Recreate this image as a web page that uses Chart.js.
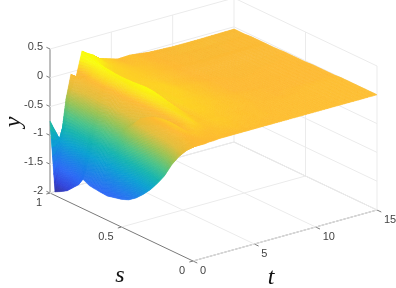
<!DOCTYPE html>
<html>
<head>
<meta charset="utf-8">
<style>
  html, body { margin: 0; padding: 0; background: #fff; }
  canvas { display: block; filter: blur(0.35px); }
</style>
<script src="https://cdn.jsdelivr.net/npm/chart.js@4"></script>
</head>
<body>
<canvas id="surfaceChart" width="396" height="288"></canvas>
<script>
const sValues = [1, 0.965, 0.92, 0.88, 0.84, 0.8, 0.77, 0.72, 0.65, 0.6, 0.55, 0.5, 0.45, 0.4, 0.35, 0.3, 0.25, 0.2, 0.15, 0.1, 0.05, 0];
const tValues = [0, 0.25, 0.5, 0.75, 1, 1.3, 1.7, 2.1, 2.6, 3, 3.5, 4, 4.6, 5.5, 6.5, 8, 10, 12, 15];
// one row per s value, one column per t value
const yValues = [
  [-0.75, -0.87, -0.98, -1.1, -0.95, -0.45, -0.04, -0.13, 0.31, 0.25, 0.19, 0.1, 0.06, 0, 0.01, -0.03, -0.05, -0.05, -0.04],
  [-1.94, -1.75, -1.45, -1.05, -0.6, -0.25, -0.05, -0.06, 0.29, 0.22, 0.17, 0.09, 0.05, 0, 0.01, -0.03, -0.05, -0.05, -0.04],
  [-1.88, -1.65, -1.35, -1, -0.62, -0.3, -0.1, 0, 0.26, 0.18, 0.13, 0.08, 0.05, 0.01, 0.01, -0.03, -0.05, -0.05, -0.04],
  [-1.82, -1.6, -1.3, -0.98, -0.65, -0.35, -0.11, 0.08, 0.23, 0.13, 0.09, 0.07, 0.05, 0.02, 0.01, -0.03, -0.04, -0.04, -0.03],
  [-1.72, -1.52, -1.25, -0.98, -0.7, -0.4, -0.09, 0.11, 0.21, 0.1, 0.08, 0.07, 0.05, 0.03, 0.01, -0.02, -0.04, -0.04, -0.03],
  [-1.62, -1.42, -1.2, -0.96, -0.72, -0.42, -0.09, 0.12, 0.2, 0.08, 0.07, 0.06, 0.05, 0.03, 0.01, -0.02, -0.04, -0.04, -0.03],
  [-1.49, -1.36, -1.16, -0.94, -0.72, -0.44, -0.09, 0.12, 0.19, 0.07, 0.07, 0.06, 0.05, 0.03, 0.01, -0.02, -0.04, -0.03, -0.03],
  [-1.55, -1.35, -1.12, -0.9, -0.68, -0.42, -0.09, 0.12, 0.185, 0.05, 0.07, 0.06, 0.05, 0.03, 0.01, -0.02, -0.03, -0.03, -0.03],
  [-1.57, -1.38, -1.12, -0.86, -0.62, -0.38, -0.08, 0.12, 0.19, 0.05, 0.07, 0.07, 0.06, 0.03, 0.01, -0.02, -0.03, -0.03, -0.02],
  [-1.58, -1.38, -1.1, -0.82, -0.58, -0.34, -0.08, 0.13, 0.2, 0.05, 0.07, 0.07, 0.07, 0.03, 0.01, -0.02, -0.03, -0.03, -0.02],
  [-1.55, -1.3, -1, -0.68, -0.42, -0.3, -0.08, 0.13, 0.21, 0.06, 0.08, 0.07, 0.07, 0.04, 0.02, -0.01, -0.03, -0.02, -0.02],
  [-1.52, -1.25, -0.92, -0.55, -0.27, -0.3, -0.1, 0.13, 0.2, 0.06, 0.08, 0.07, 0.07, 0.04, 0.02, -0.01, -0.02, -0.02, -0.02],
  [-1.47, -1.18, -0.82, -0.42, -0.12, -0.24, -0.1, 0.13, 0.175, 0.06, 0.08, 0.07, 0.06, 0.04, 0.02, -0.01, -0.02, -0.02, -0.01],
  [-1.38, -1.08, -0.7, -0.3, -0.04, -0.18, -0.09, 0.12, 0.14, 0.05, 0.08, 0.07, 0.06, 0.04, 0.02, -0.01, -0.02, -0.01, -0.01],
  [-1.26, -0.95, -0.58, -0.2, 0.02, -0.12, -0.07, 0.12, 0.11, 0.04, 0.07, 0.06, 0.05, 0.04, 0.02, 0, -0.01, -0.01, -0.01],
  [-1.12, -0.82, -0.46, -0.12, 0.05, -0.08, -0.04, 0.11, 0.08, 0.03, 0.06, 0.06, 0.05, 0.03, 0.02, 0, -0.01, -0.01, -0.01],
  [-0.95, -0.66, -0.34, -0.05, 0.06, -0.04, -0.01, 0.1, 0.05, 0.03, 0.05, 0.05, 0.04, 0.03, 0.02, 0, -0.01, 0, 0],
  [-0.76, -0.5, -0.22, 0, 0.05, -0.02, 0.03, 0.09, 0.03, 0.03, 0.04, 0.04, 0.03, 0.02, 0.01, 0, 0, 0, 0],
  [-0.51, -0.32, -0.12, 0, 0.03, 0, 0.05, 0.05, 0.02, 0.03, 0.04, 0.04, 0.03, 0.02, 0.01, 0, 0, 0, 0],
  [-0.31, -0.18, -0.06, -0.02, 0, 0.03, 0.02, 0.01, 0.01, 0.02, 0.03, 0.03, 0.02, 0.01, 0.01, 0, 0, 0, 0],
  [-0.15, -0.08, -0.03, -0.02, -0.01, 0, 0, 0, 0.01, 0.01, 0.01, 0.02, 0.01, 0.01, 0, 0, 0, 0, 0],
  [-0.02, -0.02, -0.02, -0.02, -0.02, -0.01, -0.01, 0, 0, 0, 0, 0, 0, 0, 0, 0, 0, 0, 0]
];
const sTicks = [0, 0.5, 1];
const tTicks = [0, 5, 10, 15];
const yTicks = [-2, -1.5, -1, -0.5, 0, 0.5];
const parula = [
  [53, 42, 135], [50, 70, 220], [45, 105, 245], [25, 130, 230], [10, 160, 210], [20, 180, 175],
  [75, 195, 135], [150, 195, 85], [225, 190, 60], [253, 187, 52], [249, 251, 14]
];
const colorMin = -2;
const colorMax = 0.21;

// oblique view of the box, in page units
function project(s, t, y) {
  return {
    x: 193 + (184 * t) / 15 - 143 * s,
    y: 261 - (51 * t) / 15 - 68 * s - 57.6 * (y + 2)
  };
}

function colorFor(y) {
  const v = Math.min(1, Math.max(0, (y - colorMin) / (colorMax - colorMin))) * (parula.length - 1);
  const i = Math.min(parula.length - 2, Math.floor(v));
  const f = v - i;
  const c = parula[i].map((a, k) => Math.round(a + (parula[i + 1][k] - a) * f));
  return `rgb(${c[0]},${c[1]},${c[2]})`;
}

const datasets = [];

function addLine(a, b, color, width) {
  datasets.push({
    type: "scatter",
    showLine: true,
    pointRadius: 0,
    borderColor: color,
    borderWidth: width,
    data: [project(...a), project(...b)]
  });
}

const gridColor = "#ebebeb";
yTicks.forEach((y) => {
  addLine([1, 0, y], [1, 15, y], gridColor, 1);
  addLine([1, 15, y], [0, 15, y], gridColor, 1);
});
tTicks.slice(1).forEach((t) => {
  addLine([1, t, -2], [1, t, 0.5], gridColor, 1);
  addLine([0, t, -2], [1, t, -2], t === 15 ? "#d4d4d4" : gridColor, 1);
});
sTicks.slice(0, 2).forEach((s) => {
  addLine([s, 15, -2], [s, 15, 0.5], gridColor, 1);
  addLine([s, 0, -2], [s, 15, -2], gridColor, 1);
});
addLine([1, 0, -2], [1, 15, -2], "#dddddd", 1);

addLine([1, 0, -2], [0, 0, -2], "#7a7a7a", 1);
addLine([0, 0, -2], [0, 15, -2], "#7a7a7a", 1);
addLine([1, 0, -2], [1, 0, 0.5], "#a8a8a8", 1.5);
yTicks.forEach((y) => addLine([1, 0, y], [1.025, 0, y], "#7a7a7a", 1));
sTicks.forEach((s) => addLine([s, 0, -2], [s, -0.3, -2], "#7a7a7a", 1));
tTicks.forEach((t) => addLine([0, t, -2], [-0.03, t, -2], "#7a7a7a", 1));

const surfaceStart = datasets.length;
sValues.forEach((s, i) => {
  datasets.push({
    type: "scatter",
    showLine: false,
    pointRadius: 0,
    data: tValues.map((t, j) => project(s, t, yValues[i][j]))
  });
});

const surfacePlugin = {
  id: "surface",
  afterDatasetsDraw(chart) {
    const ctx = chart.ctx;
    const rows = sValues.map((s, i) => chart.getDatasetMeta(surfaceStart + i).data);
    const steps = 8;
    ctx.save();
    ctx.lineWidth = 0.5;
    for (let i = 0; i < sValues.length - 1; i++) {
      for (let j = tValues.length - 2; j >= 0; j--) {
        const p00 = rows[i][j], p01 = rows[i][j + 1], p10 = rows[i + 1][j], p11 = rows[i + 1][j + 1];
        const y00 = yValues[i][j], y01 = yValues[i][j + 1], y10 = yValues[i + 1][j], y11 = yValues[i + 1][j + 1];
        const at = (u, v) => ({
          x: (1 - u) * ((1 - v) * p00.x + v * p01.x) + u * ((1 - v) * p10.x + v * p11.x),
          y: (1 - u) * ((1 - v) * p00.y + v * p01.y) + u * ((1 - v) * p10.y + v * p11.y)
        });
        const level = (u, v) => (1 - u) * ((1 - v) * y00 + v * y01) + u * ((1 - v) * y10 + v * y11);
        for (let a = 0; a < steps; a++) {
          for (let b = steps - 1; b >= 0; b--) {
            const u0 = a / steps, u1 = (a + 1) / steps, v0 = b / steps, v1 = (b + 1) / steps;
            const q = [at(u0, v0), at(u0, v1), at(u1, v1), at(u1, v0)];
            const color = colorFor(level((u0 + u1) / 2, (v0 + v1) / 2));
            ctx.fillStyle = color;
            ctx.strokeStyle = color;
            ctx.beginPath();
            ctx.moveTo(q[0].x, q[0].y);
            q.slice(1).forEach((p) => ctx.lineTo(p.x, p.y));
            ctx.closePath();
            ctx.fill();
            ctx.stroke();
          }
        }
      }
    }
    ctx.restore();
  },
  afterDraw(chart) {
    const ctx = chart.ctx;
    const px = (p) => ({ x: chart.scales.x.getPixelForValue(p.x), y: chart.scales.y.getPixelForValue(p.y) });
    ctx.save();
    ctx.fillStyle = "#444444";
    ctx.font = '11px "Liberation Sans"';
    ctx.textBaseline = "middle";
    ctx.textAlign = "right";
    yTicks.forEach((y) => {
      const p = px(project(1, 0, y));
      ctx.fillText(String(y), p.x - 7, p.y - 2);
    });
    sTicks.forEach((s) => {
      const p = px(project(s, 0, -2));
      ctx.fillText(String(s), p.x - 8, p.y + 10);
    });
    ctx.textAlign = "left";
    tTicks.forEach((t) => {
      const p = px(project(0, t, -2));
      ctx.fillText(String(t), p.x + 7, p.y + 10);
    });
    ctx.fillStyle = "#111111";
    ctx.font = 'italic 24px "Liberation Serif"';
    ctx.textAlign = "center";
    ctx.fillText("s", 120, 276);
    ctx.fillText("t", 271, 278);
    ctx.translate(14, 122);
    ctx.rotate(-Math.PI / 2);
    ctx.fillText("y", 0, 0);
    ctx.restore();
  }
};

new Chart(document.getElementById("surfaceChart"), {
  data: { datasets: datasets },
  plugins: [surfacePlugin],
  options: {
    responsive: false,
    animation: false,
    layout: { padding: 0 },
    plugins: { legend: { display: false }, tooltip: { enabled: false } },
    scales: {
      x: { type: "linear", display: false, min: 0, max: 396 },
      y: { type: "linear", display: false, min: 0, max: 288, reverse: true }
    }
  }
});
</script>
</body>
</html>
